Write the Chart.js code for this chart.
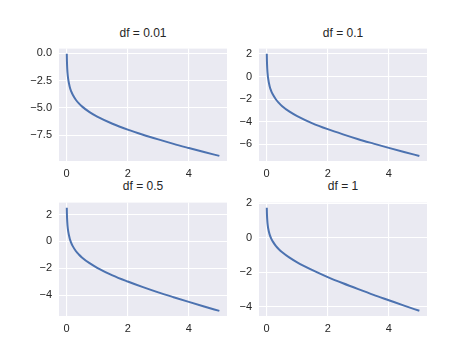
<!DOCTYPE html>
<html>
<head>
<meta charset="utf-8">
<script src="https://cdn.jsdelivr.net/npm/chart.js@4"></script>
<style>
  body { margin: 0; background: #fff; }
  #fig { position: relative; width: 474px; height: 355px; overflow: hidden; }
  canvas { position: absolute; }
  .ttl { position: absolute; width: 168px; text-align: center; font: 12px "Liberation Sans", Arial, sans-serif; color: #262626; line-height: 14px; }
</style>
</head>
<body>
<div id="fig">
  <div class="ttl" style="left:59px;top:26px">df = 0.01</div>
  <div class="ttl" style="left:259px;top:26px">df = 0.1</div>
  <div class="ttl" style="left:59px;top:179px">df = 0.5</div>
  <div class="ttl" style="left:259px;top:179px">df = 1</div>
  <canvas id="c1" width="237" height="145" style="left:0;top:35px"></canvas>
  <canvas id="c2" width="242" height="145" style="left:232px;top:35px"></canvas>
  <canvas id="c3" width="237" height="155" style="left:0;top:189px"></canvas>
  <canvas id="c4" width="242" height="155" style="left:232px;top:189px"></canvas>
</div>
<script>
const xs = [0.005, 0.01, 0.02, 0.03, 0.05, 0.1, 0.15, 0.2, 0.3, 0.4, 0.5, 0.75, 1, 1.5, 2, 2.5, 3, 3.5, 4, 4.5, 5];

const df001 = [-0.03, -0.72, -1.42, -1.82, -2.34, -3.06, -3.49, -3.80, -4.25, -4.59, -4.86, -5.39, -5.80, -6.45, -6.99, -7.46, -7.89, -8.30, -8.68, -9.05, -9.40];
const df01 = [2.03, 1.37, 0.70, 0.31, -0.18, -0.87, -1.28, -1.57, -2.01, -2.33, -2.60, -3.11, -3.50, -4.14, -4.66, -5.12, -5.55, -5.94, -6.32, -6.68, -7.03];
const df05 = [2.51, 1.99, 1.46, 1.15, 0.76, 0.22, -0.11, -0.35, -0.71, -0.97, -1.19, -1.62, -1.96, -2.52, -2.98, -3.40, -3.79, -4.15, -4.50, -4.84, -5.17];
const df1 = [1.73, 1.38, 1.03, 0.82, 0.55, 0.18, -0.05, -0.21, -0.47, -0.66, -0.82, -1.15, -1.42, -1.87, -2.27, -2.63, -2.97, -3.30, -3.61, -3.92, -4.22];

const xTicks = [0, 2, 4];
const yTicks1 = [0, -2.5, -5, -7.5];
const yTicks2 = [2, 0, -2, -4, -6];
const yTicks3 = [2, 0, -2, -4];
const yTicks4 = [2, 0, -2, -4];

const bgPlugin = {
  id: "axbg",
  beforeDraw(chart) {
    const a = chart.chartArea;
    const c = chart.ctx;
    c.save();
    c.fillStyle = "#EAEAF2";
    c.fillRect(a.left, a.top, a.right - a.left, a.bottom - a.top);
    c.restore();
  }
};

const tickFont = { family: "'Liberation Sans', Arial, sans-serif", size: 11 };

function fmt(v, dec) {
  const s = Math.abs(v).toFixed(dec);
  return v < 0 ? "\u2212" + s : s;
}

function makeChart(id, ys, yTicks, ymin, ymax, dec, yw, xh, padTop, padRight) {
  new Chart(document.getElementById(id), {
    type: "line",
    data: {
      datasets: [{
        data: xs.map((x, i) => ({ x: x, y: ys[i] })),
        borderColor: "#4C72B0",
        borderWidth: 2,
        pointRadius: 0,
        fill: false,
        cubicInterpolationMode: "monotone"
      }]
    },
    options: {
      responsive: false,
      animation: false,
      layout: { padding: { top: padTop, right: padRight, left: 0, bottom: 0 } },
      plugins: { legend: false, tooltip: { enabled: false } },
      scales: {
        x: {
          type: "linear",
          min: -0.25,
          max: 5.25,
          afterBuildTicks: s => { s.ticks = xTicks.map(v => ({ value: v })); },
          afterFit: s => { s.height = xh; },
          grid: { color: "#ffffff", lineWidth: 1.1, drawTicks: false },
          border: { display: false },
          ticks: { font: tickFont, color: "#262626", padding: 6, maxRotation: 0, callback: v => fmt(v, 0) }
        },
        y: {
          type: "linear",
          min: ymin,
          max: ymax,
          afterBuildTicks: s => { s.ticks = yTicks.map(v => ({ value: v })); },
          afterFit: s => { s.width = yw; },
          grid: { color: "#ffffff", lineWidth: 1.1, drawTicks: false },
          border: { display: false },
          ticks: { font: tickFont, color: "#262626", padding: 7, callback: v => fmt(v, dec) }
        }
      }
    },
    plugins: [bgPlugin]
  });
}

makeChart("c1", df001, yTicks1, -9.87, 0.44, 1, 59, 19, 8, 10);
makeChart("c2", df01, yTicks2, -7.48, 2.48, 0, 27, 19, 8, 47);
makeChart("c3", df05, yTicks3, -5.55, 2.89, 0, 59, 28, 8, 10);
makeChart("c4", df1, yTicks4, -4.52, 2.03, 0, 27, 28, 8, 47);
</script>
</body>
</html>
